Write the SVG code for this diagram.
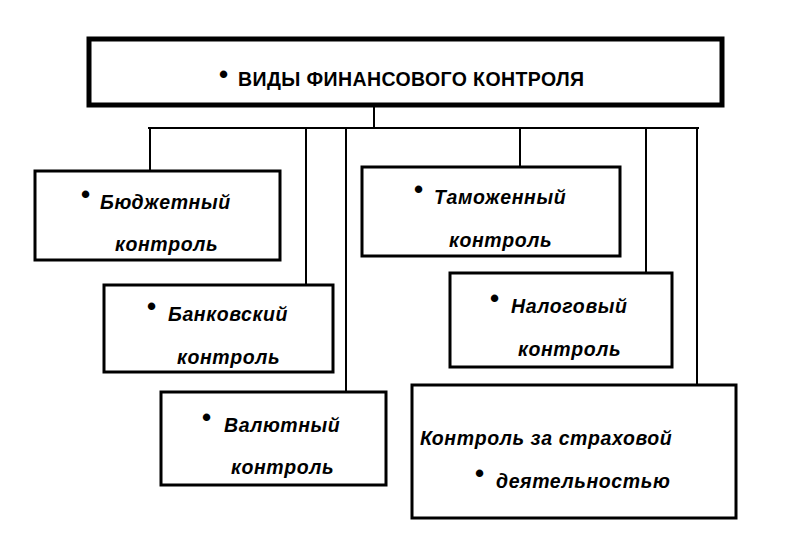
<svg xmlns="http://www.w3.org/2000/svg" width="798" height="544" viewBox="0 0 798 544">
<style>
.b{fill:#fff;stroke:#000;stroke-width:3}
.t{font-family:"Liberation Sans",Arial,sans-serif;font-size:19.5px;font-weight:bold;font-style:italic;fill:#000;letter-spacing:0.6px}
.h{font-family:"Liberation Sans",Arial,sans-serif;font-size:19.5px;font-weight:bold;fill:#000;letter-spacing:0.4px}
.d{font-family:"Liberation Sans",Arial,sans-serif;font-size:26px;font-weight:bold;fill:#000}
.c{stroke:#000;stroke-width:2;fill:none}
</style>
<rect width="798" height="544" fill="#fff"/>
<g id="connectors">
<path class="c" d="M374 106V128M148 128H699M150 128V171M306 128V285M346 128V391M520 128V167M646 128V273M697 128V385"/>
</g>
<g id="root"><rect x="89" y="39" width="633" height="66" fill="#fff" stroke="#000" stroke-width="5"/>
<text class="d" x="219" y="83">•</text><text class="h" x="238" y="86">ВИДЫ ФИНАНСОВОГО КОНТРОЛЯ</text></g>
<g id="n1"><rect class="b" x="35" y="171" width="245" height="89"/>
<text class="d" x="81" y="203">•</text><text class="t" x="100" y="209">Бюджетный</text><text class="t" x="115" y="251">контроль</text></g>
<g id="n2"><rect class="b" x="104" y="285" width="229" height="87"/>
<text class="d" x="147" y="315">•</text><text class="t" x="168" y="321">Банковский</text><text class="t" x="177" y="364">контроль</text></g>
<g id="n3"><rect class="b" x="161" y="392" width="225" height="93"/>
<text class="d" x="202" y="426">•</text><text class="t" x="224" y="432">Валютный</text><text class="t" x="231" y="474">контроль</text></g>
<g id="n4"><rect class="b" x="362" y="167" width="258" height="89"/>
<text class="d" x="414" y="198">•</text><text class="t" x="434" y="204">Таможенный</text><text class="t" x="449" y="247">контроль</text></g>
<g id="n5"><rect class="b" x="450" y="273" width="222" height="94"/>
<text class="d" x="490" y="307">•</text><text class="t" x="511" y="313">Налоговый</text><text class="t" x="518" y="356">контроль</text></g>
<g id="n6"><rect class="b" x="412" y="385" width="324" height="133"/>
<text class="t" x="420" y="445">Контроль за страховой</text>
<text class="d" x="475" y="482">•</text><text class="t" x="496" y="488">деятельностью</text></g>
</svg>
